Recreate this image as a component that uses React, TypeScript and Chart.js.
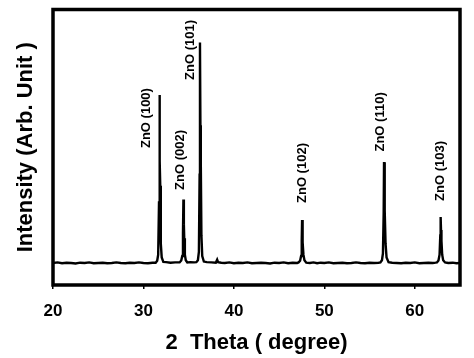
import React, { useEffect, useRef } from "react";
import { Chart, registerables } from "chart.js";

Chart.register(...registerables);

const twoTheta: number[] = [
  20, 20.5, 21, 21.5, 22, 22.5, 23, 23.5, 24, 24.5, 25, 25.5, 26, 26.5, 27, 27.5, 28, 28.5, 29, 29.5, 30, 30.5, 31,
  31.35, 31.52, 31.63, 31.72, 31.77, 31.82, 31.86, 31.92, 32.02, 32.2,
  32.5, 33, 33.5,
  34.0, 34.18, 34.29, 34.37, 34.42, 34.47, 34.51, 34.58, 34.68, 34.85,
  35.2, 35.6,
  35.85, 36.02, 36.13, 36.21, 36.25, 36.3, 36.34, 36.41, 36.5, 36.68,
  37, 37.5,
  38.0, 38.15, 38.25,
  38.6, 39, 39.5, 40, 40.5, 41, 41.5, 42, 42.5, 43, 43.5, 44, 44.5, 45, 45.5, 46, 46.5, 47.0,
  47.15, 47.32, 47.43, 47.5, 47.54, 47.58, 47.62, 47.69, 47.8, 48.0,
  48.4, 48.8, 49.2, 49.6, 50, 50.5, 51, 51.5, 52, 52.5, 53, 53.5, 54, 54.5, 55, 55.5, 56.0,
  56.2, 56.37, 56.48, 56.56, 56.6, 56.65, 56.7, 56.77, 56.88, 57.1,
  57.5, 58, 58.5, 59, 59.5, 60, 60.5, 61, 61.5, 62, 62.3,
  62.45, 62.62, 62.74, 62.82, 62.86, 62.9, 62.95, 63.03, 63.14, 63.35,
  63.7, 64.2, 64.6, 65,
];

const intensity: number[] = [
  8.0, 8.2, 7.9, 8.1, 8.0, 7.8, 8.1, 8.0, 8.2, 7.9, 8.0, 8.1, 7.9, 8.0, 8.2, 8.0, 7.9, 8.1, 8.0, 8.2, 8.0, 7.9, 8.1,
  8.1, 8.8, 11, 30, 69, 45, 36, 15, 10, 8.4,
  8.3, 8.1, 8.2,
  8.2, 8.9, 10.5, 19, 31, 22, 17, 11, 9, 8.2,
  8.3, 8.2,
  8.3, 9, 12, 40, 88, 58, 45, 18, 10.5, 8.5,
  8.3, 8.2,
  8.1, 9.2, 8.3,
  8.1, 8.0, 8.2, 7.9, 8.1, 8.0, 8.2, 7.9, 8.0, 8.1, 8.0, 7.8, 8.1, 8.0, 8.2, 7.9, 8.1, 8.0,
  8.2, 8.8, 10.5, 16, 23.6, 19, 15.5, 11, 9, 8.1,
  8.0, 8.2, 7.9, 8.1, 8.0, 8.2, 7.9, 8.0, 8.1, 7.9, 8.0, 8.2, 8.0, 7.9, 8.1, 8.0, 8.1,
  8.2, 9, 11.5, 26, 44.6, 32, 27, 15, 10, 8.3,
  8.1, 8.0, 7.9, 8.1, 8.0, 8.2, 7.9, 8.0, 8.1, 8.0, 8.1,
  8.2, 8.9, 11, 18, 24.7, 20, 16, 11, 9, 8.2,
  8.0, 8.1, 7.9, 8.0,
];

const xTicks: number[] = [20, 30, 40, 50, 60];

const peakLabels: string[] = ["ZnO (100)", "ZnO (002)", "ZnO (101)", "ZnO (102)", "ZnO (110)", "ZnO (103)"];
const labelTheta: number[] = [30.32, 34.08, 35.18, 47.55, 56.16, 62.8];
const labelIntensity: number[] = [60.6, 45.4, 85.3, 40.65, 59.2, 41.4];

const FONT = "Arial, 'Liberation Sans', sans-serif";

const framePlugin = {
  id: "frame",
  afterDraw(chart: any) {
    const { ctx, chartArea } = chart;
    ctx.save();
    ctx.strokeStyle = "#000";
    ctx.lineWidth = 3.5;
    ctx.strokeRect(chartArea.left, chartArea.top, chartArea.right - chartArea.left, chartArea.bottom - chartArea.top);
    ctx.restore();
  },
};

const peakLabelPlugin = {
  id: "peakLabels",
  afterDatasetsDraw(chart: any) {
    const { ctx, scales } = chart;
    ctx.save();
    ctx.fillStyle = "#000";
    ctx.font = `bold 13px ${FONT}`;
    ctx.textAlign = "center";
    ctx.textBaseline = "middle";
    peakLabels.forEach((t, i) => {
      const x = scales.x.getPixelForValue(labelTheta[i]);
      const y = scales.y.getPixelForValue(labelIntensity[i]);
      ctx.save();
      ctx.translate(x, y);
      ctx.rotate(-Math.PI / 2);
      ctx.fillText(t, 0, 0);
      ctx.restore();
    });
    ctx.restore();
  },
};

export default function App() {
  const ref = useRef<HTMLCanvasElement | null>(null);

  useEffect(() => {
    document.body.style.margin = "0";
    const canvas = ref.current;
    if (!canvas) return;
    const chart = new Chart(canvas, {
      type: "line",
      data: {
        datasets: [
          {
            data: twoTheta.map((x, i) => ({ x, y: intensity[i] })),
            borderColor: "#000",
            borderWidth: 2.4,
            pointRadius: 0,
            tension: 0,
            fill: false,
          },
        ],
      },
      options: {
        animation: false,
        responsive: false,
        devicePixelRatio: 1,
        layout: { padding: { top: 9.5, right: 14, left: 0, bottom: 0 } },
        plugins: { legend: { display: false }, tooltip: { enabled: false } },
        scales: {
          x: {
            type: "linear",
            min: 20,
            max: 65,
            afterBuildTicks: (s: any) => {
              s.ticks = xTicks.map((v) => ({ value: v }));
            },
            afterFit: (s: any) => {
              s.height = 73;
            },
            grid: {
              display: true,
              drawOnChartArea: false,
              drawTicks: true,
              tickLength: 4,
              color: "#000",
              lineWidth: 1.5,
            },
            border: { display: false },
            ticks: {
              color: "#000",
              font: { family: FONT, size: 17, weight: "bold" },
              padding: 12,
              maxRotation: 0,
            },
            title: {
              display: true,
              text: "2  Theta ( degree)",
              color: "#000",
              font: { family: FONT, size: 22, weight: "bold" },
              padding: { top: 0, bottom: 2 },
            },
          },
          y: {
            type: "linear",
            min: 0,
            max: 100,
            afterFit: (s: any) => {
              s.width = 53;
            },
            grid: { display: false },
            border: { display: false },
            ticks: { display: false },
            title: {
              display: true,
              text: "Intensity (Arb. Unit )",
              color: "#000",
              font: { family: FONT, size: 22, weight: "bold" },
              padding: { top: 12.3, bottom: 0 },
            },
          },
        },
      },
      plugins: [framePlugin, peakLabelPlugin],
    });
    return () => chart.destroy();
  }, []);

  return (
    <div style={{ width: 474, height: 358, background: "#fff" }}>
      <canvas ref={ref} width={474} height={358} />
    </div>
  );
}
